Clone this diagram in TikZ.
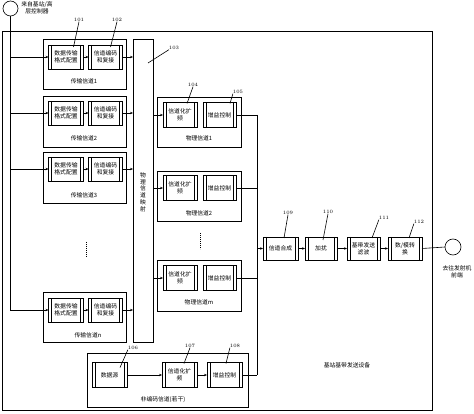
\documentclass[tikz,border=0pt]{standalone}
\usepackage{fontspec}
\newfontfamily\cjk{Noto Sans CJK SC}
\usetikzlibrary{arrows.meta}
\begin{document}
\begin{tikzpicture}[x=1pt,y=-1pt,
  every node/.style={inner sep=0pt, outer sep=0pt},
  blk/.style={draw, line width=0.6pt, fill=white, minimum width=35pt, minimum height=24pt, align=center,
    font=\cjk\fontsize{5.8}{7}\selectfont,
    path picture={
      \draw[line width=0.7pt] ([xshift=3pt]path picture bounding box.north west) -- ([xshift=3pt]path picture bounding box.south west);
      \draw[line width=0.7pt] ([xshift=-3pt]path picture bounding box.north east) -- ([xshift=-3pt]path picture bounding box.south east);}},
  grp/.style={draw, line width=0.6pt},
  lbl/.style={font=\cjk\fontsize{5.8}{7}\selectfont},
  num/.style={font=\fontsize{5}{6}\selectfont},
  arr/.style={-{Stealth[length=3pt,width=2.4pt]}, line width=0.6pt},
  ln/.style={line width=0.6pt},
  dotcol/.style={line width=0.9pt, dash pattern=on 0.7pt off 1.3pt}
]
\useasboundingbox (0,0) rectangle (474,414);

% outer box
\node[draw, line width=0.9pt, minimum width=430pt, minimum height=379pt] (outer) at (217,220.5) {};
\node[lbl] (outerlbl) at (347,365) {基站基带发送设备};

% source / destination
\node[draw, circle, line width=0.6pt, minimum size=15pt, fill=white] (src) at (10.5,8.5) {};
\node[lbl, align=center] (srctxt) at (37,8) {来自基站/高\\层控制器};
\node[draw, circle, line width=0.6pt, minimum size=16pt] (dst) at (453,247) {};
\node[lbl, align=center] (dsttxt) at (457,272) {去往发射机\\前端};

% transmission channel groups
\node[grp, minimum width=83pt, minimum height=50pt] (g1) at (84.5,64) {};
\node[grp, minimum width=83pt, minimum height=51pt] (g2) at (84.5,121.5) {};
\node[grp, minimum width=83pt, minimum height=51pt] (g3) at (84.5,177.5) {};
\node[grp, minimum width=83pt, minimum height=50pt] (gn) at (84.5,317) {};
\node[lbl] (g1l) at (84,81) {传输信道1};
\node[lbl] (g2l) at (84,138) {传输信道2};
\node[lbl] (g3l) at (84,195) {传输信道3};
\node[lbl] (gnl) at (88,335) {传输信道n};
\draw[dotcol] (86,242) -- (86,257);

\foreach \i/\y in {1/57, 2/113, 3/169, n/310}{
  \node[blk] (a\i) at (66,\y) {数据传输\\格式配置};
  \node[blk, minimum width=34pt] (b\i) at (105.5,\y) {信道编码\\和复接};
}

% physical channel mapping
\node[draw, line width=0.6pt, minimum width=20pt, minimum height=303pt] (pm) at (143,190.5) {};
\node[lbl, align=center, font=\cjk\fontsize{5.8}{6.8}\selectfont] (pml) at (143,192) {物\\理\\信\\道\\映\\射};

% physical channel groups
\node[grp, minimum width=84pt, minimum height=50pt] (p1) at (199,122) {};
\node[grp, minimum width=84pt, minimum height=50pt] (p2) at (199,196) {};
\node[grp, minimum width=84pt, minimum height=51pt] (pm2) at (199,285.5) {};
\node[lbl] (p1l) at (199,138) {物理信道1};
\node[lbl] (p2l) at (199,213) {物理信道2};
\node[lbl] (pml2) at (199,302) {物理信道m};
\draw[dotcol] (200,233) -- (200,249);

\foreach \j/\y in {1/115, 2/188, m/278}{
  \node[blk, minimum width=34pt, minimum height=25pt] (c\j) at (180,\y) {信道化扩\\频};
  \node[blk, minimum width=33pt, minimum height=25pt] (d\j) at (219.5,\y) {增益控制};
}

% non-coded channel group
\node[grp, minimum width=161pt, minimum height=54pt] (nc) at (167.5,380) {};
\node[lbl] (ncl) at (163,400) {非编码信道(若干)};
\node[blk, minimum height=25pt] (e1) at (109.5,375) {数据源};
\node[blk, minimum height=25pt] (e2) at (179.5,375) {信道化扩\\频};
\node[blk, minimum height=25pt] (e3) at (224.5,375) {增益控制};

% output chain
\node[blk, minimum height=23pt] (f1) at (280.5,248.5) {信道合成};
\node[blk, minimum width=32pt, minimum height=23pt] (f2) at (321,248.5) {加扰};
\node[blk, minimum width=33pt, minimum height=23pt] (f3) at (363.5,248.5) {基带发送\\滤波};
\node[blk, minimum width=34pt, minimum height=23pt] (f4) at (405,248.5) {数/模转\\换};

\coordinate (bus) at (257,0);

% connectors: input
\draw[arr] (src.south) |- (an.west);
\foreach \i in {1,2,3}{
  \draw[arr] (src.south |- a\i.west) -- (a\i.west);
}
\foreach \i in {1,2,3,n}{
  \draw[arr] (a\i.east) -- (b\i.west);
  \draw[arr] (b\i.east) -- (b\i.east -| pm.west);
}
\foreach \j in {1,2,m}{
  \draw[arr] (c\j.west -| pm.east) -- (c\j.west);
  \draw[ln] (d\j.east) -- (d\j.east -| bus);
}
\draw[ln] (d1.east -| bus) -- (e3.east -| bus);
\draw[ln] (e3.east) -- (e3.east -| bus);
\draw[arr] (e1.east) -- (e2.west);
\draw[arr] (e2.east) -- (e3.west);
\draw[arr] (f1.west -| bus) -- (f1.west);
\draw[arr] (f1.east) -- (f2.west);
\draw[arr] (f2.east) -- (f3.west);
\draw[arr] (f3.east) -- (f4.west);
\draw[ln] (f4.east) -- (dst.west);

% reference numbers
\node[num] (n101) at (79,20) {101};
\node[num] (n102) at (117,20) {102};
\node[num] (n103) at (174,48) {103};
\node[num] (n104) at (193,85) {104};
\node[num] (n105) at (238,92) {105};
\node[num] (n106) at (133,348) {106};
\node[num] (n107) at (190,346) {107};
\node[num] (n108) at (235,346) {108};
\node[num] (n109) at (288,213) {109};
\node[num] (n110) at (328,212) {110};
\node[num] (n111) at (384,218) {111};
\node[num] (n112) at (419,222) {112};
\draw[ln] (n101.south) -- ([xshift=-10pt,yshift=-2pt]a1.north east);
\draw[ln] (n102.south) -- ([xshift=-12pt,yshift=-2pt]b1.north east);
\draw[ln] (n103.south west) -- ([xshift=-5pt,yshift=-24pt]pm.north east);
\draw[ln] (n104.south) -- ([xshift=-10pt,yshift=-1pt]c1.north east);
\draw[ln] (n105.south west) -- ([xshift=-6pt,yshift=-1pt]d1.north east);
\draw[ln] (n106.south west) -- ([xshift=-7pt,yshift=-5pt]e1.north east);
\draw[ln] (n107.south) -- ([xshift=-13pt,yshift=-1pt]e2.north east);
\draw[ln] (n108.south west) -- ([xshift=-16pt,yshift=-1pt]e3.north east);
\draw[ln] (n109.south) -- ([xshift=-14pt,yshift=-1pt]f1.north east);
\draw[ln] (n110.south) -- ([xshift=-14pt,yshift=-3pt]f2.north east);
\draw[ln] (n111.south west) -- ([xshift=-8pt,yshift=-1pt]f3.north east);
\draw[ln] (n112.south west) -- ([xshift=-13pt,yshift=-1pt]f4.north east);
\end{tikzpicture}
\end{document}
